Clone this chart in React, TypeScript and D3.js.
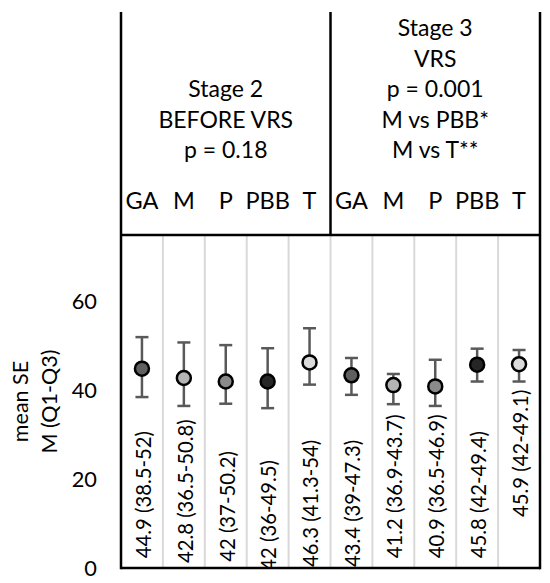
import React from 'react';
import * as d3 from 'd3';

const groups = ['GA', 'M', 'P', 'PBB', 'T'];
const stageHeaders: string[][] = [
  ['Stage 2', 'BEFORE VRS', 'p = 0.18'],
  ['Stage 3', 'VRS', 'p = 0.001', 'M vs PBB*', 'M vs T**'],
];
const medianS2 = [44.9, 42.8, 42, 42, 46.3];
const q1S2 = [38.5, 36.5, 37, 36, 41.3];
const q3S2 = [52, 50.8, 50.2, 49.5, 54];
const medianS3 = [43.4, 41.2, 40.9, 45.8, 45.9];
const q1S3 = [39, 36.9, 36.5, 42, 42];
const q3S3 = [47.3, 43.7, 46.9, 49.4, 49.1];
const labelBaseS2 = [2.2, 1.1, 1.4, -0.6, 0.2];
const labelBaseS3 = [0.2, 2.2, 2.2, 2.2, 11.5];
const yTicks = [0, 20, 40, 60];
const fills = ['#606060', '#b4b4b4', '#8a8a8a', '#262626', '#dadada'];

const W = 550, H = 583;
const FONT = "Lato, 'Open Sans', sans-serif";

type Pt = { key: string; stage: number; g: number; med: number; q1: number; q3: number; lb: number };

export default function App() {
  const pts: Pt[] = [];
  [
    [medianS2, q1S2, q3S2, labelBaseS2],
    [medianS3, q1S3, q3S3, labelBaseS3],
  ].forEach(([m, a, b, l], s) => {
    groups.forEach((g, i) => pts.push({ key: `${s}-${g}`, stage: s, g: i, med: m[i], q1: a[i], q3: b[i], lb: l[i] }));
  });

  const left = 121, right = 540, headTop = 12, headBottom = 235, bottom = 568;
  const x = d3.scaleBand<string>().domain(pts.map(p => p.key)).range([left, right]).padding(0);
  const y = d3.scaleLinear().domain([0, 75]).range([bottom, headBottom]);
  const bw = x.bandwidth();
  const boundaries = d3.range(1, pts.length).map(i => left + i * bw);
  const mid = left + 5 * bw;
  const stageCenters = [(left + mid) / 2, (mid + right) / 2];
  const lineH = 30.5;
  const lastBase = 158;

  return (
    <svg width={W} height={H} style={{ position: 'absolute', left: 0, top: 0, background: '#fff' }} fontFamily={FONT}>
      <defs>
        <clipPath id="plotclip">
          <rect x={left} y={headBottom} width={right - left} height={bottom - headBottom} />
        </clipPath>
      </defs>
      <rect width={W} height={H} fill="#fff" />
      {/* gridlines */}
      {boundaries.map((bx, i) => (
        <line key={`g${i}`} x1={bx} x2={bx} y1={headBottom} y2={bottom} stroke="#d9d9d9" strokeWidth={2} />
      ))}
      {/* header stage texts */}
      {stageHeaders.map((lines, s) => (
        <g key={`h${s}`}>
          {lines.map((t, j) => (
            <text key={j} x={stageCenters[s]} y={lastBase - (lines.length - 1 - j) * lineH} textAnchor="middle" fontSize={23} fill="#000">{t}</text>
          ))}
        </g>
      ))}
      {/* group labels */}
      {pts.map(p => (
        <text key={`c${p.key}`} x={x(p.key)! + bw / 2} y={209} textAnchor="middle" fontSize={23.5} fill="#000">{groups[p.g]}</text>
      ))}
      {/* data labels */}
      <g clipPath="url(#plotclip)">
        {pts.map(p => {
          const cx = x(p.key)! + bw / 2 + 1.5;
          const by = y(p.lb);
          return (
            <text key={`l${p.key}`} transform={`translate(${cx},${by}) rotate(-90)`} dy="0.36em" fontSize={20.3} fill="#000">
              {`${p.med} (${p.q1}-${p.q3})`}
            </text>
          );
        })}
      </g>
      {/* error bars */}
      {pts.map(p => {
        const cx = x(p.key)! + bw / 2;
        return (
          <g key={`e${p.key}`} stroke="#595959" strokeWidth={2.5}>
            <line x1={cx} x2={cx} y1={y(p.q1)} y2={y(p.q3)} />
            <line x1={cx - 6.5} x2={cx + 6.5} y1={y(p.q1)} y2={y(p.q1)} />
            <line x1={cx - 6.5} x2={cx + 6.5} y1={y(p.q3)} y2={y(p.q3)} />
          </g>
        );
      })}
      {/* markers */}
      {pts.map(p => (
        <circle key={`m${p.key}`} cx={x(p.key)! + bw / 2} cy={y(p.med)} r={7} fill={fills[p.g]} stroke="#000" strokeWidth={2.5} />
      ))}
      {/* frame */}
      <g stroke="#000" strokeWidth={2.5} fill="none">
        <line x1={left} x2={left} y1={headTop} y2={bottom + 1.25} />
        <line x1={right} x2={right} y1={headTop} y2={bottom + 1.25} />
        <line x1={mid} x2={mid} y1={headTop} y2={headBottom} />
        <line x1={left} x2={right} y1={headBottom} y2={headBottom} />
        <line x1={left} x2={right} y1={bottom} y2={bottom} />
      </g>
      {/* y tick labels */}
      {yTicks.map(t => (
        <text key={`t${t}`} x={97} y={y(t)} dy="0.36em" textAnchor="end" fontSize={21.8} fill="#000">{t}</text>
      ))}
      {/* y axis title */}
      <g transform={`translate(0,${(headBottom + bottom) / 2}) rotate(-90)`}>
        <text x={0} y={28} textAnchor="middle" fontSize={21.5} fill="#000">mean SE</text>
        <text x={0} y={57} textAnchor="middle" fontSize={21.5} fill="#000">M (Q1-Q3)</text>
      </g>
    </svg>
  );
}
